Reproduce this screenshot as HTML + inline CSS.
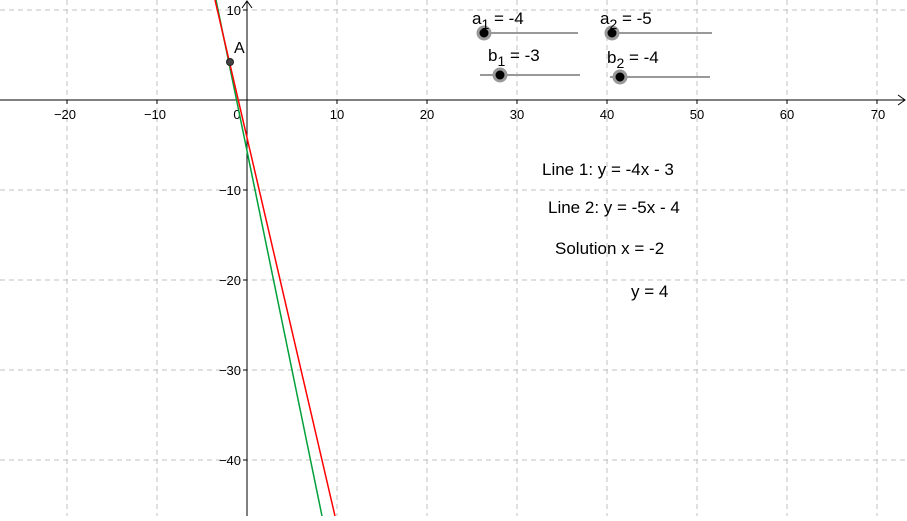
<!DOCTYPE html>
<html><head><meta charset="utf-8"><style>
body{margin:0;background:#fff}
svg text{font-family:"Liberation Sans",sans-serif}
</style></head><body>
<svg width="907" height="516" xmlns="http://www.w3.org/2000/svg">
<g stroke="#c0c0c0" stroke-dasharray="5,4" stroke-width="1">
<line x1="67" y1="0" x2="67" y2="516"/><line x1="157" y1="0" x2="157" y2="516"/>
<line x1="337" y1="0" x2="337" y2="516"/><line x1="427" y1="0" x2="427" y2="516"/>
<line x1="517" y1="0" x2="517" y2="516"/><line x1="607" y1="0" x2="607" y2="516"/>
<line x1="697" y1="0" x2="697" y2="516"/><line x1="787" y1="0" x2="787" y2="516"/>
<line x1="877" y1="0" x2="877" y2="516"/>
<line x1="0" y1="10" x2="907" y2="10"/><line x1="0" y1="190" x2="907" y2="190"/>
<line x1="0" y1="280" x2="907" y2="280"/><line x1="0" y1="370" x2="907" y2="370"/>
<line x1="0" y1="460" x2="907" y2="460"/>
</g>
<g stroke="#000" stroke-width="1">
<line x1="0" y1="100" x2="905" y2="100"/><polyline points="898,95 905,100 898,105" fill="none"/>
<line x1="247" y1="1" x2="247" y2="516"/><polyline points="242,8 247,1 252,8" fill="none"/>
<g>
<line x1="67" y1="100" x2="67" y2="104"/><line x1="157" y1="100" x2="157" y2="104"/>
<line x1="337" y1="100" x2="337" y2="104"/><line x1="427" y1="100" x2="427" y2="104"/>
<line x1="517" y1="100" x2="517" y2="104"/><line x1="607" y1="100" x2="607" y2="104"/>
<line x1="697" y1="100" x2="697" y2="104"/><line x1="787" y1="100" x2="787" y2="104"/>
<line x1="877" y1="100" x2="877" y2="104"/>
<line x1="243" y1="10" x2="247" y2="10"/><line x1="243" y1="190" x2="247" y2="190"/>
<line x1="243" y1="280" x2="247" y2="280"/><line x1="243" y1="370" x2="247" y2="370"/>
<line x1="243" y1="460" x2="247" y2="460"/>
</g></g>
<g font-size="13" fill="#000" text-anchor="middle">
<text x="65" y="119">−20</text><text x="155" y="119">−10</text><text x="237" y="119">0</text>
<text x="337" y="119">10</text><text x="427" y="119">20</text><text x="517" y="119">30</text>
<text x="607" y="119">40</text><text x="697" y="119">50</text><text x="787" y="119">60</text>
<text x="878" y="119">70</text>
</g>
<g font-size="13" fill="#000" text-anchor="end">
<text x="241" y="15">10</text><text x="241" y="195">−10</text><text x="241" y="285">−20</text>
<text x="241" y="375">−30</text><text x="241" y="465">−40</text>
</g>
<line x1="216" y1="0" x2="322" y2="516" stroke="#00a03c" stroke-width="1.5"/>
<line x1="215" y1="0" x2="335" y2="516" stroke="#ff0000" stroke-width="1.5"/>
<circle cx="230" cy="62" r="3.5" fill="#444" stroke="#222"/>
<text x="234" y="53" font-size="16">A</text>
<g stroke="#999" stroke-width="2">
<line x1="484" y1="33" x2="578" y2="33"/><line x1="612" y1="33" x2="712" y2="33"/>
<line x1="480" y1="75" x2="580" y2="75"/><line x1="610" y1="77" x2="710" y2="77"/>
</g>
<g fill="#000" stroke="#999" stroke-width="3">
<circle cx="484" cy="33" r="6"/><circle cx="612" cy="33" r="6"/>
<circle cx="500" cy="75" r="6"/><circle cx="620" cy="77" r="6"/>
</g>
<g font-size="17" fill="#000">
<text x="472" y="24">a<tspan font-size="14" dy="5">1</tspan><tspan dy="-5"> = -4</tspan></text>
<text x="600" y="24">a<tspan font-size="14" dy="5">2</tspan><tspan dy="-5"> = -5</tspan></text>
<text x="488" y="61">b<tspan font-size="14" dy="5">1</tspan><tspan dy="-5"> = -3</tspan></text>
<text x="607" y="63">b<tspan font-size="14" dy="5">2</tspan><tspan dy="-5"> = -4</tspan></text>
<text x="542" y="175">Line 1: y = -4x - 3</text>
<text x="548" y="213">Line 2: y = -5x - 4</text>
<text x="555" y="254">Solution x = -2</text>
<text x="631" y="297">y = 4</text>
</g>
</svg>
</body></html>
